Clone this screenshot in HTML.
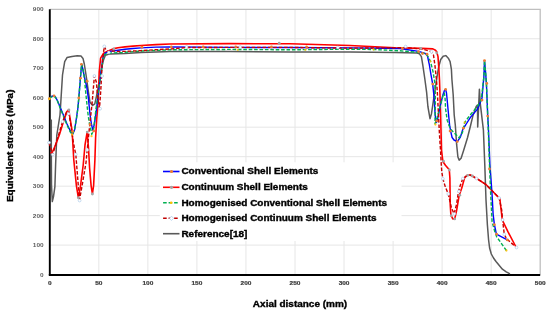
<!DOCTYPE html>
<html><head><meta charset="utf-8"><style>
html,body{margin:0;padding:0;background:#fff;}
svg{display:block;}
text{font-family:"Liberation Sans",Arial,sans-serif;}
.yt{font-size:6.5px;fill:#606060;font-weight:bold;text-anchor:end;}
.xt{font-size:6.5px;fill:#404040;font-weight:bold;text-anchor:middle;stroke:#404040;stroke-width:0.25px;}
.lg text{font-size:10px;font-weight:bold;fill:#000;stroke:#000;stroke-width:0.4px;}
.ttl{font-size:10px;font-weight:bold;fill:#000;stroke:#000;stroke-width:0.4px;}
</style></head><body>
<svg width="550" height="313" viewBox="0 0 550 313">
<rect width="550" height="313" fill="#fff"/>
<line x1="49.8" y1="245.12" x2="540.2" y2="245.12" stroke="#e6e6e6" stroke-width="1"/>
<line x1="49.8" y1="215.64" x2="540.2" y2="215.64" stroke="#e6e6e6" stroke-width="1"/>
<line x1="49.8" y1="186.16" x2="540.2" y2="186.16" stroke="#e6e6e6" stroke-width="1"/>
<line x1="49.8" y1="156.68" x2="540.2" y2="156.68" stroke="#e6e6e6" stroke-width="1"/>
<line x1="49.8" y1="127.20" x2="540.2" y2="127.20" stroke="#e6e6e6" stroke-width="1"/>
<line x1="49.8" y1="97.72" x2="540.2" y2="97.72" stroke="#e6e6e6" stroke-width="1"/>
<line x1="49.8" y1="68.24" x2="540.2" y2="68.24" stroke="#e6e6e6" stroke-width="1"/>
<line x1="49.8" y1="38.76" x2="540.2" y2="38.76" stroke="#e6e6e6" stroke-width="1"/>
<line x1="98.84" y1="9.3" x2="98.84" y2="274.6" stroke="#e6e6e6" stroke-width="1"/>
<line x1="147.88" y1="9.3" x2="147.88" y2="274.6" stroke="#e6e6e6" stroke-width="1"/>
<line x1="196.92" y1="9.3" x2="196.92" y2="274.6" stroke="#e6e6e6" stroke-width="1"/>
<line x1="245.96" y1="9.3" x2="245.96" y2="274.6" stroke="#e6e6e6" stroke-width="1"/>
<line x1="295.00" y1="9.3" x2="295.00" y2="274.6" stroke="#e6e6e6" stroke-width="1"/>
<line x1="344.04" y1="9.3" x2="344.04" y2="274.6" stroke="#e6e6e6" stroke-width="1"/>
<line x1="393.08" y1="9.3" x2="393.08" y2="274.6" stroke="#e6e6e6" stroke-width="1"/>
<line x1="442.12" y1="9.3" x2="442.12" y2="274.6" stroke="#e6e6e6" stroke-width="1"/>
<line x1="491.16" y1="9.3" x2="491.16" y2="274.6" stroke="#e6e6e6" stroke-width="1"/>
<polyline points="49.8,9.28 540.20,9.28 540.20,274.60" fill="none" stroke="#bfbfbf" stroke-width="1.3"/>
<line x1="49.8" y1="9.3" x2="49.8" y2="275" stroke="#000" stroke-width="1.9"/>
<line x1="48.8" y1="275" x2="540.2" y2="275" stroke="#000" stroke-width="1.9"/>
<polyline points="51.3,119.6 51.3,150.0 51.5,185.0 52.3,201.6 53.5,196.6 54.9,186.6 55.6,165.0 56.8,135.0 60.0,115.0 62.5,75.0 63.2,70.7 64.7,61.7 67.0,57.6 72.0,56.4 77.2,55.8 81.0,56.0 83.0,58.4 84.3,64.0 86.2,76.0 88.4,91.9 90.0,102.3 92.6,105.5 94.8,103.9 96.4,96.7 98.0,88.7 100.3,76.0 102.0,66.4 103.5,60.0 105.4,55.3 110.0,53.9 125.0,53.5 141.0,52.6 156.0,52.0 170.0,51.6 230.0,51.6 290.0,51.9 350.0,51.9 395.0,52.4 417.0,53.0 419.5,53.8 421.4,56.6 422.8,65.2 424.7,78.0 426.6,92.1 427.9,106.5 430.0,118.7 431.5,113.7 433.6,99.3 435.8,85.0 437.3,75.0 438.8,66.5 440.7,59.5 443.2,56.3 445.8,55.6 448.3,58.2 450.1,61.7 451.4,69.4 451.9,79.2 453.2,95.0 454.2,115.0 455.3,125.0 456.6,144.2 457.9,157.0 459.2,160.1 461.1,158.2 463.6,150.6 467.5,137.8 470.7,125.0 473.0,115.4 476.2,106.5 477.5,105.0 477.7,127.0 479.4,89.2 480.2,102.8 483.4,130.0 484.8,165.0 486.0,200.0 487.4,225.0 488.6,240.0 489.6,248.0 491.3,254.0 493.5,258.0 496.0,261.5 502.4,269.2 506.2,271.9 510.0,273.8" fill="none" stroke="#595959" stroke-width="1.5" stroke-linejoin="round"/>
<polyline points="50.3,152.5 52.0,153.0 55.5,145.2 59.3,135.0 63.8,120.4 67.0,111.5 68.6,109.8 70.2,119.2 72.1,130.7 73.8,160.0 76.4,185.6 78.3,197.3 80.2,188.1 83.2,165.0 85.0,145.0 87.2,132.0 88.5,148.0 89.6,168.0 91.1,185.6 92.4,194.0 93.6,185.6 94.9,160.0 95.6,137.8 96.8,118.0 98.3,100.0 99.2,72.0 100.6,58.1 103.5,53.3 108.3,50.9 114.0,48.6 118.0,47.8 125.0,46.9 133.0,46.1 141.0,45.5 156.0,44.6 170.0,44.0 230.0,43.6 290.0,43.8 350.0,45.5 395.0,47.8 421.8,48.4 432.9,48.9 435.5,50.3 436.7,51.8 438.0,56.6 438.8,67.8 439.5,80.0 440.0,95.0 440.6,115.0 441.0,130.0 441.5,150.0 442.9,161.5 445.4,165.3 449.3,169.8 449.9,178.1 450.2,204.2 450.9,215.0 452.8,218.9 454.7,218.9 456.6,210.6 459.2,195.2 461.7,188.2 464.6,177.9 467.1,175.3 470.3,175.1 472.3,176.0 476.7,178.5 485.7,184.3 493.3,192.0 499.8,198.5 502.3,220.0 507.9,231.7 516.0,247.0" fill="none" stroke="#ff0000" stroke-width="1.6" stroke-linejoin="round"/>
<polyline points="49.4,98.6 51.5,96.5 53.8,95.6 55.5,97.0 57.4,100.6 60.6,108.2 63.8,116.0 67.0,124.0 70.2,130.7 72.8,133.9 74.7,129.4 76.6,117.0 77.9,108.0 78.8,98.0 80.4,78.2 81.1,70.0 81.7,64.2 83.0,70.0 85.2,80.7 86.8,87.1 88.4,98.3 90.1,115.0 91.5,124.5 92.9,130.3 94.4,123.8 96.5,109.4 98.0,96.0 99.5,84.0 101.6,68.0 103.0,57.0 105.4,53.0 110.0,51.4 118.0,50.2 125.0,49.2 133.0,48.5 141.0,47.9 156.0,47.1 170.0,46.9 230.0,47.4 290.0,47.5 350.0,47.9 400.0,48.5 418.6,51.4 425.2,53.4 427.5,56.0 429.2,64.0 431.1,75.4 432.7,84.1 434.3,99.3 435.0,112.3 435.5,118.0 436.2,122.5 437.3,121.0 438.6,113.7 440.8,103.7 442.9,95.0 444.6,90.0 445.6,89.4 446.5,93.0 448.0,109.0 449.6,125.0 450.7,131.4 452.1,137.5 454.0,140.0 457.3,141.6 460.4,137.1 463.0,128.8 465.6,125.0 470.4,117.4 477.5,109.1 480.7,101.4 482.0,98.0 483.9,76.4 484.5,60.6 485.4,70.0 486.4,83.4 487.1,100.0 487.7,116.0 488.3,125.0 489.9,165.0 491.4,185.0 492.1,195.0 493.1,214.1 494.4,224.7 496.4,234.2 507.3,239.9" fill="none" stroke="#0000ff" stroke-width="1.4" stroke-linejoin="round"/>
<polyline points="49.4,98.6 51.5,96.8 53.8,96.0 55.5,97.5 57.4,101.0 60.6,109.0 63.8,117.0 67.0,125.0 70.0,131.5 72.1,134.5 74.5,130.0 76.6,118.0 77.9,108.0 78.8,98.0 80.4,78.2 81.1,70.0 81.7,64.2 83.5,72.0 84.6,80.0 85.5,90.0 86.8,103.0 88.0,114.0 89.3,123.0 90.8,129.5 91.8,134.3 93.5,130.0 95.5,113.0 97.3,99.0 99.5,84.0 101.6,70.0 103.0,59.0 104.5,54.6 110.0,53.0 122.0,52.5 141.9,51.0 170.0,49.8 230.0,49.4 290.0,49.8 350.0,49.2 373.6,49.5 400.0,50.8 418.0,52.3 426.5,54.0 430.4,61.1 433.0,71.6 434.9,83.1 435.3,95.0 435.2,110.0 435.0,123.7 437.0,118.0 439.3,109.4 441.5,101.0 443.3,94.5 444.3,93.0 445.0,97.0 445.6,109.0 447.2,120.2 449.0,125.5 451.2,129.8 455.3,133.9 459.2,137.8 462.4,132.7 464.7,122.5 469.2,116.1 473.6,111.0 478.0,105.5 481.3,99.4 483.9,76.4 484.5,60.6 485.4,70.0 486.4,83.4 487.1,100.0 488.1,125.0 489.5,165.0 490.5,190.0 492.1,221.8 495.0,232.3 496.7,236.8 506.4,250.5" fill="none" stroke="#00b050" stroke-width="1.4" stroke-dasharray="3.6 1.8" stroke-linejoin="round"/>
<polyline points="49.0,142.6 52.8,154.6 57.0,140.0 62.6,121.7 66.5,112.0 68.7,112.5 70.9,125.6 72.1,134.5 74.0,146.0 75.8,154.4 78.3,185.6 79.6,199.6 82.1,185.6 86.0,162.6 87.2,150.0 89.6,126.0 92.2,102.2 94.4,76.0 96.4,82.3 97.5,95.0 99.5,108.5 100.8,90.0 102.3,62.0 104.3,46.4 106.0,50.0 108.8,52.4 113.1,50.8 118.0,51.5 128.0,51.3 141.0,50.6 156.0,49.7 170.0,49.0 186.6,47.5 230.0,47.4 290.0,47.4 350.0,48.2 405.9,47.6 421.8,49.0 431.4,51.6 433.5,55.0 435.0,66.0 436.5,80.0 437.5,95.0 438.5,115.0 439.5,135.0 440.5,150.0 441.3,165.0 441.8,172.0 442.9,178.8 445.4,187.1 448.3,194.0 451.5,208.0 454.1,213.8 456.6,204.2 458.5,191.4 460.4,185.0 462.9,178.5 467.0,175.5 470.3,175.1 476.5,178.5 485.7,184.3 493.3,192.0 499.1,198.0 501.7,210.0 502.6,220.0 504.3,234.5 506.8,239.0 516.5,247.5" fill="none" stroke="#c80000" stroke-width="1.4" stroke-dasharray="3.6 1.8" stroke-linejoin="round"/>
<circle cx="49.4" cy="98.6" r="1.4" fill="#ed7d31"/>
<circle cx="54" cy="95.8" r="1.4" fill="#ed7d31"/>
<circle cx="78.8" cy="98" r="1.4" fill="#ed7d31"/>
<circle cx="80.4" cy="78.2" r="1.4" fill="#ed7d31"/>
<circle cx="81.4" cy="64.3" r="1.4" fill="#ed7d31"/>
<circle cx="87.1" cy="81.2" r="1.4" fill="#ed7d31"/>
<circle cx="90.1" cy="124.5" r="1.4" fill="#ed7d31"/>
<circle cx="93.7" cy="131" r="1.4" fill="#ed7d31"/>
<circle cx="72.6" cy="131.4" r="1.4" fill="#ed7d31"/>
<circle cx="141.9" cy="47.2" r="1.4" fill="#ed7d31"/>
<circle cx="171.3" cy="46.9" r="1.4" fill="#ed7d31"/>
<circle cx="203.2" cy="46.9" r="1.4" fill="#ed7d31"/>
<circle cx="235.7" cy="47" r="1.4" fill="#ed7d31"/>
<circle cx="271.5" cy="47" r="1.4" fill="#ed7d31"/>
<circle cx="306.6" cy="47" r="1.4" fill="#ed7d31"/>
<circle cx="402.4" cy="48.5" r="1.4" fill="#ed7d31"/>
<circle cx="418.6" cy="51.6" r="1.4" fill="#ed7d31"/>
<circle cx="422.5" cy="53.5" r="1.4" fill="#ed7d31"/>
<circle cx="427" cy="54.2" r="1.4" fill="#ed7d31"/>
<circle cx="432.7" cy="84.1" r="1.4" fill="#ed7d31"/>
<circle cx="436.7" cy="120.9" r="1.4" fill="#ed7d31"/>
<circle cx="445.6" cy="89.4" r="1.4" fill="#ed7d31"/>
<circle cx="450.1" cy="131.1" r="1.4" fill="#ed7d31"/>
<circle cx="457.3" cy="141.6" r="1.4" fill="#ed7d31"/>
<circle cx="463.4" cy="128.2" r="1.4" fill="#ed7d31"/>
<circle cx="482" cy="100.1" r="1.4" fill="#ed7d31"/>
<circle cx="484.5" cy="60.6" r="1.4" fill="#ed7d31"/>
<circle cx="486.8" cy="83.4" r="1.4" fill="#ed7d31"/>
<circle cx="487.7" cy="116.1" r="1.4" fill="#ed7d31"/>
<circle cx="489.5" cy="169" r="1.4" fill="#ed7d31"/>
<circle cx="494.4" cy="224.7" r="1.4" fill="#ed7d31"/>
<circle cx="496.6" cy="234.2" r="1.4" fill="#ed7d31"/>
<circle cx="507.3" cy="239.9" r="1.4" fill="#ed7d31"/>
<circle cx="68.9" cy="110" r="1.4" fill="#a5a5a5"/>
<circle cx="78.3" cy="197.7" r="1.4" fill="#a5a5a5"/>
<circle cx="87.2" cy="132.1" r="1.4" fill="#a5a5a5"/>
<circle cx="92.4" cy="194" r="1.4" fill="#a5a5a5"/>
<circle cx="113.8" cy="49" r="1.4" fill="#a5a5a5"/>
<circle cx="279.2" cy="43.2" r="1.4" fill="#a5a5a5"/>
<circle cx="420.8" cy="48.5" r="1.4" fill="#a5a5a5"/>
<circle cx="436.7" cy="52.8" r="1.4" fill="#a5a5a5"/>
<circle cx="443.5" cy="161.2" r="1.4" fill="#a5a5a5"/>
<circle cx="449.3" cy="170" r="1.4" fill="#a5a5a5"/>
<circle cx="451.2" cy="215.7" r="1.4" fill="#a5a5a5"/>
<circle cx="454.7" cy="218.9" r="1.4" fill="#a5a5a5"/>
<circle cx="459.8" cy="195.2" r="1.4" fill="#a5a5a5"/>
<circle cx="467.8" cy="175.3" r="1.4" fill="#a5a5a5"/>
<circle cx="472.3" cy="176" r="1.4" fill="#a5a5a5"/>
<circle cx="237.7" cy="49.8" r="1.15" fill="#ffc000" fill-opacity="0.85"/>
<circle cx="305.3" cy="49.8" r="1.15" fill="#ffc000" fill-opacity="0.85"/>
<circle cx="373.6" cy="49.5" r="1.15" fill="#ffc000" fill-opacity="0.85"/>
<circle cx="430.4" cy="61.4" r="1.15" fill="#ffc000" fill-opacity="0.85"/>
<circle cx="435.4" cy="124.5" r="1.15" fill="#ffc000" fill-opacity="0.85"/>
<circle cx="464.7" cy="122.5" r="1.15" fill="#ffc000" fill-opacity="0.85"/>
<circle cx="506.4" cy="250.5" r="1.15" fill="#ffc000" fill-opacity="0.85"/>
<circle cx="91.5" cy="136.2" r="1.15" fill="#ffc000" fill-opacity="0.85"/>
<circle cx="72.1" cy="134.5" r="1.15" fill="#ffc000" fill-opacity="0.85"/>
<circle cx="49.4" cy="99" r="1.15" fill="#ffc000" fill-opacity="0.85"/>
<circle cx="49" cy="142.6" r="1.4" fill="#fff" stroke="#9dc3e6" stroke-width="0.6"/>
<circle cx="52.8" cy="154.6" r="1.4" fill="#fff" stroke="#9dc3e6" stroke-width="0.6"/>
<circle cx="62.6" cy="121.7" r="1.4" fill="#fff" stroke="#9dc3e6" stroke-width="0.6"/>
<circle cx="68.7" cy="113.8" r="1.4" fill="#fff" stroke="#9dc3e6" stroke-width="0.6"/>
<circle cx="75.8" cy="154.4" r="1.4" fill="#fff" stroke="#9dc3e6" stroke-width="0.6"/>
<circle cx="79.6" cy="200.5" r="1.4" fill="#fff" stroke="#9dc3e6" stroke-width="0.6"/>
<circle cx="87.2" cy="150" r="1.4" fill="#fff" stroke="#9dc3e6" stroke-width="0.6"/>
<circle cx="94.4" cy="76" r="1.4" fill="#fff" stroke="#9dc3e6" stroke-width="0.6"/>
<circle cx="100.1" cy="108.7" r="1.4" fill="#fff" stroke="#9dc3e6" stroke-width="0.6"/>
<circle cx="102.1" cy="76" r="1.4" fill="#fff" stroke="#9dc3e6" stroke-width="0.6"/>
<circle cx="104.3" cy="46.4" r="1.4" fill="#fff" stroke="#9dc3e6" stroke-width="0.6"/>
<circle cx="108.8" cy="52.4" r="1.4" fill="#fff" stroke="#9dc3e6" stroke-width="0.6"/>
<circle cx="186.6" cy="46.9" r="1.4" fill="#fff" stroke="#9dc3e6" stroke-width="0.6"/>
<circle cx="240.2" cy="47" r="1.4" fill="#fff" stroke="#9dc3e6" stroke-width="0.6"/>
<circle cx="337.9" cy="47.5" r="1.4" fill="#fff" stroke="#9dc3e6" stroke-width="0.6"/>
<circle cx="405.6" cy="46.6" r="1.4" fill="#fff" stroke="#9dc3e6" stroke-width="0.6"/>
<circle cx="431.5" cy="51.8" r="1.4" fill="#fff" stroke="#9dc3e6" stroke-width="0.6"/>
<circle cx="442.9" cy="178.8" r="1.4" fill="#fff" stroke="#9dc3e6" stroke-width="0.6"/>
<circle cx="448.3" cy="194" r="1.4" fill="#fff" stroke="#9dc3e6" stroke-width="0.6"/>
<circle cx="454.4" cy="213.8" r="1.4" fill="#fff" stroke="#9dc3e6" stroke-width="0.6"/>
<circle cx="458.9" cy="191.4" r="1.4" fill="#fff" stroke="#9dc3e6" stroke-width="0.6"/>
<circle cx="462.9" cy="178.5" r="1.4" fill="#fff" stroke="#9dc3e6" stroke-width="0.6"/>
<circle cx="476.5" cy="178.5" r="1.4" fill="#fff" stroke="#9dc3e6" stroke-width="0.6"/>
<circle cx="499.1" cy="198" r="1.4" fill="#fff" stroke="#9dc3e6" stroke-width="0.6"/>
<circle cx="502.6" cy="219.9" r="1.4" fill="#fff" stroke="#9dc3e6" stroke-width="0.6"/>
<circle cx="504.3" cy="234.5" r="1.4" fill="#fff" stroke="#9dc3e6" stroke-width="0.6"/>
<circle cx="516.5" cy="247.5" r="1.4" fill="#fff" stroke="#9dc3e6" stroke-width="0.6"/>
<text transform="translate(43.6,276.61) scale(1,0.875)" class="yt">0</text>
<text transform="translate(43.6,247.13) scale(1,0.875)" class="yt">100</text>
<text transform="translate(43.6,217.65) scale(1,0.875)" class="yt">200</text>
<text transform="translate(43.6,188.17) scale(1,0.875)" class="yt">300</text>
<text transform="translate(43.6,158.69) scale(1,0.875)" class="yt">400</text>
<text transform="translate(43.6,129.21) scale(1,0.875)" class="yt">500</text>
<text transform="translate(43.6,99.73) scale(1,0.875)" class="yt">600</text>
<text transform="translate(43.6,70.25) scale(1,0.875)" class="yt">700</text>
<text transform="translate(43.6,40.77) scale(1,0.875)" class="yt">800</text>
<text transform="translate(43.6,11.29) scale(1,0.875)" class="yt">900</text>
<text transform="translate(49.80,285.31) scale(1,0.875)" class="xt">0</text>
<text transform="translate(98.84,285.31) scale(1,0.875)" class="xt">50</text>
<text transform="translate(147.88,285.31) scale(1,0.875)" class="xt">100</text>
<text transform="translate(196.92,285.31) scale(1,0.875)" class="xt">150</text>
<text transform="translate(245.96,285.31) scale(1,0.875)" class="xt">200</text>
<text transform="translate(295.00,285.31) scale(1,0.875)" class="xt">250</text>
<text transform="translate(344.04,285.31) scale(1,0.875)" class="xt">300</text>
<text transform="translate(393.08,285.31) scale(1,0.875)" class="xt">350</text>
<text transform="translate(442.12,285.31) scale(1,0.875)" class="xt">400</text>
<text transform="translate(491.16,285.31) scale(1,0.875)" class="xt">450</text>
<text transform="translate(540.20,285.31) scale(1,0.875)" class="xt">500</text>
<g class="lg">
<rect x="159.8" y="162.3" width="241.7" height="78.7" fill="#fff"/>
<line x1="163" y1="171.5" x2="179.5" y2="171.5" stroke="#0000ff" stroke-width="1.6"/>
<circle cx="171.5" cy="171.5" r="1.6" fill="#ed7d31"/>
<text transform="translate(181.4,174.15) scale(1,0.875)">Conventional Shell Elements</text>
<line x1="163" y1="187.3" x2="179.5" y2="187.3" stroke="#ff0000" stroke-width="1.6"/>
<circle cx="171.5" cy="187.3" r="1.6" fill="#a5a5a5"/>
<text transform="translate(181.4,190.45) scale(1,0.875)">Continuum Shell Elements</text>
<line x1="163.1" y1="202.8" x2="178.4" y2="202.8" stroke="#00b050" stroke-width="1.6" stroke-dasharray="3.6 1.9"/>
<circle cx="171.2" cy="202.8" r="1.3" fill="#ffc000"/>
<text transform="translate(181.4,205.85) scale(1,0.875)">Homogenised Conventional Shell Elements</text>
<line x1="163.1" y1="218.3" x2="178.4" y2="218.3" stroke="#c00000" stroke-width="1.6" stroke-dasharray="3.6 1.9"/>
<rect x="170" y="216.8" width="3" height="3" transform="rotate(45 171.5 218.3)" fill="#fff" stroke="#9dc3e6" stroke-width="0.6"/>
<text transform="translate(181.4,221.35) scale(1,0.875)">Homogenised Continuum Shell Elements</text>
<line x1="163" y1="233.7" x2="179.5" y2="233.7" stroke="#595959" stroke-width="1.6"/>
<text transform="translate(181.4,236.65) scale(1,0.875)">Reference[18]</text>
</g>
<text class="ttl" transform="translate(300,307.45) scale(1,0.875)" text-anchor="middle">Axial distance (mm)</text>
<text class="ttl" transform="translate(12.75,145.8) rotate(-90) scale(1,0.875)" text-anchor="middle">Equivalent stress (MPa)</text>
</svg>
</body></html>
